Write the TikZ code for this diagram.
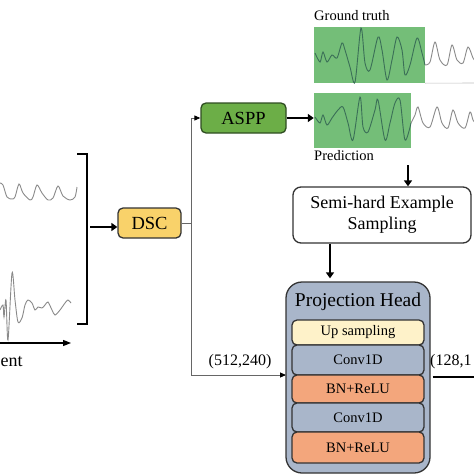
\documentclass[tikz,border=0pt]{standalone}
\usepackage{fontspec}
\setmainfont{Liberation Serif}
\usetikzlibrary{arrows.meta}
\definecolor{dscY}{HTML}{F9D26A}
\definecolor{asppG}{HTML}{6CAE47}
\definecolor{asppB}{HTML}{2F4D22}
\definecolor{projB}{HTML}{A9B6CA}
\definecolor{upY}{HTML}{FEF2C9}
\definecolor{bnO}{HTML}{F3A67C}
\definecolor{sigG}{HTML}{74BE78}
\definecolor{sigD}{HTML}{3B6F57}
\definecolor{waveG}{HTML}{8A8A8A}
\begin{document}
\begin{tikzpicture}[x=1pt,y=-1pt,
  box/.style={draw=black!80,line width=1.3pt,rounded corners=5pt,inner sep=0pt,align=center},
  inbox/.style={box,minimum width=132pt,font=\fontsize{14.5}{16}\selectfont},
  tarrow/.style={line width=2.6pt,-{Triangle[length=6pt,width=8pt]}},
  tline/.style={line width=2.6pt},
  garrow/.style={draw=black!60,line width=0.9pt,-{Triangle[length=6pt,width=5pt,fill=black,color=black]}},
  gline/.style={draw=black!60,line width=0.9pt},
  wave/.style={draw=waveG,line width=0.9pt},
  dwave/.style={draw=sigD,line width=0.9pt},
  lbl/.style={inner sep=0pt,font=\fontsize{14.5}{16}\selectfont}]
\useasboundingbox (0,0) rectangle (474,474);
\clip (0,0) rectangle (474,474);

% left signals
\draw[wave] plot[smooth,tension=0.5] coordinates {(0,183) (3,185) (7,197) (12,199) (15,197) (19,184) (23,193) (30,200) (33,197) (37,185) (42,193) (48,200) (53,198) (58,186) (63,196) (70,200) (75,197) (77,187)};
\draw[wave] plot[smooth,tension=0.5] coordinates {(0,310) (3,305) (4,317) (6,300) (8,340) (12,273) (15,300) (18,322) (22,318) (25,305) (28,300) (32,303) (35,310) (38,307) (42,308) (45,305) (48,302) (52,310) (55,315) (60,310) (65,303) (68,300) (71,303)};
\draw[line width=1.2pt,-{Triangle[length=8pt,width=6pt]}] (0,343) -- (71,343);
\node[anchor=west,inner sep=0pt,font=\fontsize{18}{20}\selectfont] (entlbl) at (0.5,362) {ent};
\draw[line width=2pt] (77,154) -- (87,154) -- (87,324) -- (77,324);
\coordinate (brk) at (90,227);

% DSC and ASPP
\node[box,fill=dscY,minimum width=63pt,minimum height=30pt,font=\fontsize{18.5}{20}\selectfont] (dsc) at (149.5,223) {DSC};
\node[box,fill=asppG,draw=asppB,minimum width=85pt,minimum height=30pt,font=\fontsize{18.5}{20}\selectfont] (aspp) at (243.5,118) {ASPP};
\draw[tarrow] (brk) -- (brk -| dsc.west);

\coordinate (split) at (191,223);
\coordinate (low) at (191,375);
\draw[gline] (dsc.east) -- (split);
\draw[garrow] (split) |- (aspp.west);
\draw[garrow] (split) -- (low) -- (low -| 286,0);

% signal panels
\node[fill=sigG,minimum width=111pt,minimum height=56pt,inner sep=0pt] (gt) at (369.5,55) {};
\node[fill=sigG,minimum width=97pt,minimum height=55pt,inner sep=0pt] (pred) at (362.5,120.5) {};
\draw[draw=black!25,line width=0.6pt] (gt.south east) -- (474,83);
\draw[dwave] plot[smooth,tension=0.5] coordinates {(315,53) (320,62) (323,52) (327,62) (332,55) (337,58) (342,43) (345,50) (350,67) (355,82) (361,28) (365,63) (370,70) (378,37) (382,50) (387,80) (392,60) (397,37) (402,50) (405,75) (410,65) (417,38) (422,53) (425,65)};
\draw[wave] plot[smooth,tension=0.5] coordinates {(425,65) (430,62) (435,42) (440,60) (447,65) (452,45) (457,60) (463,63) (468,47) (473,58) (476,62)};
\draw[dwave] plot[smooth,tension=0.5] coordinates {(315,117) (320,123) (323,115) (327,125) (332,118) (338,110) (343,107) (348,123) (353,140) (360,97) (363,127) (368,132) (375,110) (378,100) (385,140) (390,123) (395,103) (400,100) (405,140) (411,123)};
\draw[wave] plot[smooth,tension=0.5] coordinates {(411,123) (415,115) (418,107) (423,123) (430,127) (437,107) (442,123) (448,128) (453,110) (458,123) (465,128) (470,112) (473,120) (476,124)};
\node[lbl,anchor=south west] (gtl) at (314,21) {Ground truth};
\node[lbl,anchor=north west] (prl) at (314,150) {Prediction};
\draw[tarrow] (aspp.east) -- (aspp.east -| pred.west);

% semi-hard
\node[box,fill=white,rounded corners=8pt,minimum width=178pt,minimum height=56pt,font=\fontsize{18}{21}\selectfont] (semi) at (382,215) {Semi-hard Example\\Sampling};
\coordinate (pd) at (408,165);
\draw[tarrow] (pd) -- (pd |- semi.north);

% projection head
\node[box,fill=projB,rounded corners=16pt,minimum width=144pt,minimum height=191pt] (proj) at (358,377.5) {};
\node[inner sep=0pt,font=\fontsize{19.5}{21}\selectfont] (ptitle) at (358,302) {Projection Head};
\node[inbox,fill=upY,minimum height=25pt] (up) at (358,332.5) {Up sampling};
\node[inbox,fill=projB,minimum height=30pt] (c1) at (358,360) {Conv1D};
\node[inbox,fill=bnO,minimum height=28pt] (b1) at (358,389) {BN+ReLU};
\node[inbox,fill=projB,minimum height=29pt] (c2) at (358,417.5) {Conv1D};
\node[inbox,fill=bnO,minimum height=31pt] (b2) at (358,447.5) {BN+ReLU};
\coordinate (sx) at (330,0);
\draw[tarrow,shorten >=3pt] (semi.south -| sx) -- (proj.north -| sx);

\node[lbl,font=\fontsize{16}{18}\selectfont] (in512) at (240,362) {(512,240)};
\node[lbl,anchor=west,font=\fontsize{16}{18}\selectfont] (out128) at (430,362) {(128,1};
\coordinate (rout) at (474,377);
\draw[tline,shorten <=2pt] (proj.east |- rout) -- (rout);
\end{tikzpicture}
\end{document}
